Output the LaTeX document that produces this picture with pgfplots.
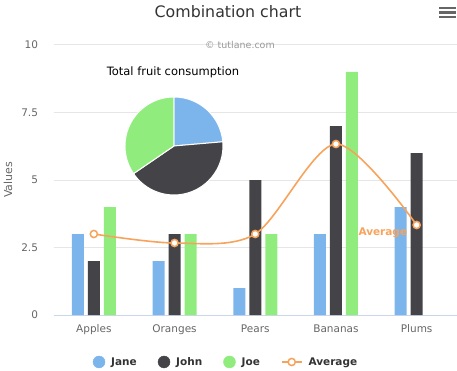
\documentclass[border=0pt]{standalone}
\usepackage{pgfplots}
\pgfplotsset{compat=1.18}
\usepackage{fontspec}
\setmainfont{DejaVu Sans}
\definecolor{janec}{HTML}{7CB5EC}
\definecolor{johnc}{HTML}{434348}
\definecolor{joec}{HTML}{90ED7D}
\definecolor{avgc}{HTML}{F7A35C}
\definecolor{gridc}{HTML}{E6E6E6}
\definecolor{axc}{HTML}{CCD6EB}
\definecolor{labc}{HTML}{666666}
\definecolor{txtc}{HTML}{333333}
\pgfplotsset{avglegend/.style={legend image code/.code={\draw[##1, mark=none] (0pt,0pt) -- (20pt,0pt); \draw[##1] plot coordinates {(10pt,0pt)};}}}
\begin{document}
\begin{tikzpicture}
\useasboundingbox (0pt,0pt) rectangle (457pt,370pt);
% pie data (total consumption)
\def\pJane{13}\def\pJohn{23}\def\pJoe{19}
\pgfmathsetmacro\ptot{\pJane+\pJohn+\pJoe}
\pgfmathsetmacro\aA{90-360*\pJane/\ptot}
\pgfmathsetmacro\aB{\aA-360*\pJohn/\ptot}
\begin{axis}[
  at={(53.5pt,55pt)}, anchor=south west,
  scale only axis, width=403.5pt, height=270pt,
  xmin=-0.5, xmax=4.5, ymin=0, ymax=10,
  xtick={0,1,2,3,4}, xticklabels={Apples,Oranges,Pears,Bananas,Plums},
  ytick={0,2.5,5,7.5,10},
  /pgf/number format/assume math mode=true,
  ticklabel style={font=\fontsize{10.5}{12}\selectfont, text=labc},
  yticklabel style={xshift=-12pt},
  xticklabel style={yshift=-6pt},
  major tick length=0pt,
  ymajorgrids, grid style={gridc, line width=1pt},
  axis x line*=bottom, axis y line*=left,
  x axis line style={-, axc, line width=1pt},
  y axis line style={draw=none},
  ylabel={Values},
  ylabel style={at={(axis description cs:-0.1128,0.5)}, anchor=center, rotate=0, font=\fontsize{11}{13}\selectfont, text=labc},
  legend style={at={(0.4275,-0.174)}, anchor=center, draw=none, fill=none,
    font=\fontsize{10.5}{12}\selectfont\bfseries, text=txtc,
    /tikz/every odd column/.append style={column sep=4pt},
    /tikz/every even column/.append style={column sep=19pt}},
  legend columns=4,
  clip=false,
]
\addlegendimage{legend image code/.code={\fill[janec] (0pt,0pt) circle (6pt);}}
\addlegendentry{Jane}
\addlegendimage{legend image code/.code={\fill[johnc] (0pt,0pt) circle (6pt);}}
\addlegendentry{John}
\addlegendimage{legend image code/.code={\fill[joec] (0pt,0pt) circle (6pt);}}
\addlegendentry{Joe}

\addplot[ybar, bar width=12pt, bar shift=-16pt, fill=janec, draw=none, forget plot]
  coordinates {(0,3) (1,2) (2,1) (3,3) (4,4)};
\addplot[ybar, bar width=12pt, bar shift=0pt, fill=johnc, draw=none, forget plot]
  coordinates {(0,2) (1,3) (2,5) (3,7) (4,6)};
\addplot[ybar, bar width=12pt, bar shift=16pt, fill=joec, draw=none, forget plot]
  coordinates {(0,4) (1,3) (2,3) (3,9) (4,0)};

\addplot[avgc, line width=1.6pt, smooth, mark=*, mark size=3.6pt,
  mark options={fill=white, draw=avgc, line width=1.5pt}, avglegend]
  coordinates {(0,3) (1,2.667) (2,3) (3,6.333) (4,3.333)};
\addlegendentry{Average}

\node[text=avgc, font=\fontsize{10.5}{12}\selectfont\bfseries, anchor=east]
  at (axis cs:4,3.333) [xshift=-6pt, yshift=-8pt] {Average};

% pie
\draw[fill=janec, draw=white, line width=1pt, line join=round]
  (axis cs:0.993,6.26) -- ++(90:49pt) arc[start angle=90, end angle=\aA, radius=49pt] -- cycle;
\draw[fill=johnc, draw=white, line width=1pt, line join=round]
  (axis cs:0.993,6.26) -- ++(\aA:49pt) arc[start angle=\aA, end angle=\aB, radius=49pt] -- cycle;
\draw[fill=joec, draw=white, line width=1pt, line join=round]
  (axis cs:0.993,6.26) -- ++(\aB:49pt) arc[start angle=\aB, end angle=-270, radius=49pt] -- cycle;
\end{axis}
% title
\node[text=txtc, font=\fontsize{15.8}{18}\selectfont] at (228pt,358pt) {Combination chart};
\node[text=black, font=\fontsize{11.5}{13}\selectfont] at (173pt,298pt) {Total fruit consumption};
\node[text=gray!80, font=\fontsize{9.5}{11}\selectfont] at (240pt,325pt) {© tutlane.com};
% menu icon
\foreach \yy in {362,357.5,353} {\draw[labc, line width=2.6pt] (439pt,\yy pt) -- (456pt,\yy pt);}
\end{tikzpicture}
\end{document}
